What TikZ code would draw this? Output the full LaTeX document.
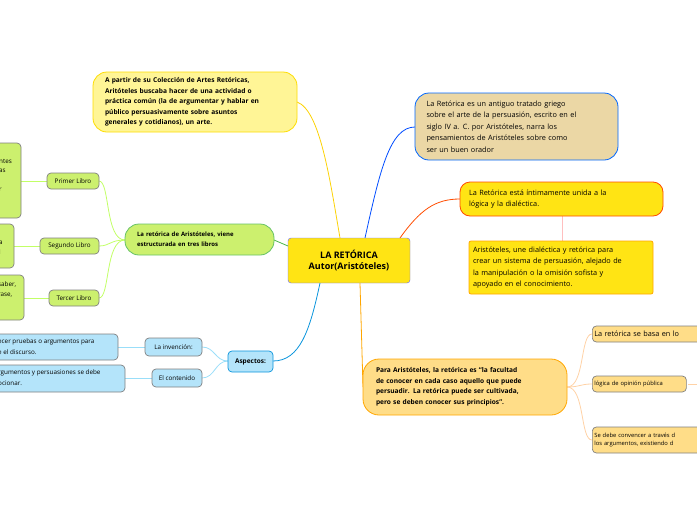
\documentclass[tikz,border=0pt]{standalone}
\usepackage{fontspec}
\setmainfont{Open Sans}
\definecolor{peach}{RGB}{255,221,136}
\definecolor{tan}{RGB}{235,215,165}
\definecolor{lime}{RGB}{204,240,110}
\definecolor{sky}{RGB}{180,228,250}
\definecolor{yel}{RGB}{255,228,20}
\definecolor{lyel}{RGB}{255,245,150}
\begin{document}
\begin{tikzpicture}[x=1pt,y=-1pt,
 bx/.style={rounded corners=4pt,inner sep=2pt,font=\fontsize{6.3}{8.5}\selectfont,align=left,line width=0.7pt},
 big/.style={rounded corners=14pt,inner sep=3pt,font=\fontsize{7.3}{11.5}\selectfont,align=left,line width=0.8pt},
 bb/.style={font=\bfseries\fontsize{6.6}{10.5}\selectfont},
 ln/.style={line width=0.8pt},
 frag/.style={anchor=west,inner sep=0pt,font=\fontsize{6.3}{8.5}\selectfont}]
\useasboundingbox (0,0) rectangle (697,520);
\begin{scope}
\clip (0,0) rectangle (697,520);
% connectors
\draw[ln,draw=yellow!70!orange] (340,238) .. controls (330,180) and (320,110) .. (297,102);
\draw[ln,draw=blue!70!cyan] (365,238) .. controls (380,170) and (390,127) .. (415,127);
\draw[ln,draw=orange!60!red] (400,238) .. controls (420,210) and (435,199) .. (460,199);
\draw[ln,draw=red!25] (562,216) -- (562,241);
\draw[ln,draw=green!60!black!70] (274,240) -- (288,246);
\draw[ln,draw=cyan!80!blue] (320,283) .. controls (310,330) and (300,361) .. (273,361);
\draw[ln,draw=orange!70!yellow] (360,283) -- (363,387);
\draw[ln,draw=cyan!40] (228,361) .. controls (215,361) and (215,347) .. (202,347);
\draw[ln,draw=cyan!40] (228,361) .. controls (215,361) and (215,378) .. (202,378);
\draw[ln,draw=cyan!40] (145,347) -- (118,347);
\draw[ln,draw=cyan!40] (152,378) -- (125,378);
\draw[ln,draw=green!40!yellow!60] (125,240) .. controls (105,240) and (110,181) .. (99,181);
\draw[ln,draw=green!40!yellow!60] (125,240) .. controls (110,240) and (110,246) .. (99,246);
\draw[ln,draw=green!40!yellow!60] (125,240) .. controls (105,240) and (110,298) .. (99,298);
\draw[ln,draw=green!40!yellow!60] (47,181) -- (21,181);
\draw[ln,draw=green!40!yellow!60] (40,246) -- (14,246);
\draw[ln,draw=green!40!yellow!60] (49,298) -- (24,298);
\draw[ln,draw=orange!35] (567,387) .. controls (585,387) and (580,334) .. (592,334);
\draw[ln,draw=orange!35] (567,387) .. controls (580,387) and (580,384) .. (592,384);
\draw[ln,draw=orange!35] (567,387) .. controls (585,387) and (580,440) .. (592,440);
\draw[ln,draw=orange!35] (688,384) -- (697,384);
% nodes
\node[draw=blue!60,fill=yel,rounded corners=3pt,minimum width=122,minimum height=45,align=center,font=\bfseries\fontsize{9}{11}\selectfont] (c) at (349,260.5) {LA RETÓRICA\\Autor(Aristóteles)};
\node[big,bb,draw=yellow!80!orange,fill=lyel,minimum width=204,minimum height=60,text width=180] (t) at (195,102) {A partir de su Colección de Artes Retóricas,\\Aritóteles buscaba hacer de una actividad o\\práctica común (la de argumentar y hablar en\\público persuasivamente sobre asuntos\\generales y cotidianos), un arte.};
\node[big,draw=blue!60!cyan,fill=tan,minimum width=203,minimum height=67,text width=180] (r1) at (516.5,126.5) {La Retórica es un antiguo tratado griego\\sobre el arte de la persuasión, escrito en el\\siglo IV a. C. por Aristóteles,  narra los\\pensamientos de Aristóteles sobre como\\ser un buen orador};
\node[big,rounded corners=10pt,draw=orange!60!red,fill=yel,minimum width=203,minimum height=34,text width=185] (r2) at (561.5,199) {La Retórica está íntimamente unida a la\\lógica y la dialéctica.};
\node[big,draw=orange!70!yellow,fill=yel,rounded corners=2pt,minimum width=184,minimum height=53,text width=176] (r3) at (561,267.5) {Aristóteles, une dialéctica y retórica para\\crear un sistema de persuasión, alejado de\\la manipulación o la omisión sofista y\\apoyado en el conocimiento.};
\node[big,bb,rounded corners=16pt,draw=orange!70!yellow,fill=peach,minimum width=204,minimum height=56,text width=178] (o) at (465,387) {Para Aristóteles, la retórica es “la facultad\\de conocer en cada caso aquello que puede\\persuadir. La retórica puede ser cultivada,\\pero se deben conocer sus principios”.};
\node[bx,draw=gray,fill=peach,anchor=west,minimum height=16,text width=110,font=\fontsize{7.3}{9}\selectfont] (o1) at (592,334) {La retórica se basa en lo};
\node[bx,draw=gray,fill=peach,anchor=west,minimum height=16,text width=90,font=\fontsize{5.8}{8}\selectfont] (o2) at (592,384) {lógica de opinión pública};
\node[bx,draw=gray,fill=peach,anchor=west,minimum height=26,text width=110,font=\fontsize{5.8}{8}\selectfont] (o3) at (592,440) {Se debe convencer a través d\\los argumentos, existiendo d};
\node[big,draw=green!60!black!60,fill=lime,minimum width=149,minimum height=31,text width=125,font=\bfseries\fontsize{6}{10}\selectfont] (g) at (199.5,239.5) {La retórica de Aristóteles, viene\\estructurada en tres libros};
\node[bx,draw=gray,fill=lime,minimum width=52,minimum height=16] (l1) at (73,181) {Primer Libro};
\node[bx,draw=gray,fill=lime,minimum width=59,minimum height=16] (l2) at (69.5,246) {Segundo Libro};
\node[bx,draw=gray,fill=lime,minimum width=50,minimum height=16] (l3) at (74,298) {Tercer Libro};
\draw[bx,draw=gray,fill=lime] (-20,143) rectangle (21,218);
\draw[bx,draw=gray,fill=lime] (-20,224) rectangle (14,268);
\draw[bx,draw=gray,fill=lime] (-20,275) rectangle (24,320);
\node[frag] (f1) at (-1,161) {ntes};
\node[frag] (f2) at (-1,171) {as};
\node[frag] (f3) at (-1,190) {r};
\node[frag] (f4) at (-1,243) {a};
\node[frag] (f5) at (-1,252) {l};
\node[frag] (f6) at (-2,285) {saber,};
\node[frag] (f7) at (-2,295) {rase,};
\node[bx,draw=cyan!80!blue,fill=sky,minimum width=45,minimum height=21,font=\bfseries\fontsize{6.5}{8}\selectfont] (a) at (250.5,361.5) {Aspectos:};
\node[bx,draw=gray,fill=sky,minimum width=57,minimum height=18] (a1) at (173.5,347) {La invención:};
\node[bx,draw=gray,fill=sky,minimum width=50,minimum height=18] (a2) at (177,378) {El contenido};
\draw[bx,draw=gray,fill=sky] (-20,334) rectangle (118,360);
\draw[bx,draw=gray,fill=sky] (-20,365) rectangle (125,392);
\node[frag] (f8) at (-2,342) {ecer pruebas o argumentos para};
\node[frag] (f9) at (-2,352) {e el discurso.};
\node[frag] (f10) at (-2,373) {rgumentos y persuasiones se debe};
\node[frag] (f11) at (-2,383) {ocionar.};
\end{scope}
\end{tikzpicture}
\end{document}
